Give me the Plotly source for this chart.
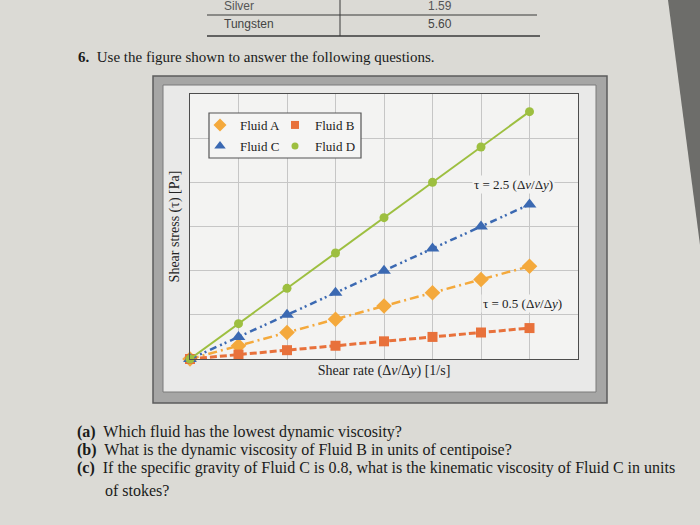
import plotly.graph_objects as go

# shear rate (1/s) and shear stress (Pa)
shear_rate = [0, 1, 2, 3, 4, 5, 6, 7]
fluid_a = [0, 1.5, 3.0, 4.5, 6.0, 7.5, 9.0, 10.5]
fluid_b = [0, 0.5, 1.0, 1.5, 2.0, 2.5, 3.0, 3.5]
fluid_c = [0, 2.5, 5.0, 7.5, 10.0, 12.5, 15.0, 17.5]
fluid_d = [0, 4.0, 8.0, 12.0, 16.0, 20.0, 24.0, 28.0]

names = ["Fluid A", "Fluid B", "Fluid C", "Fluid D"]
colors = ["#f4a93c", "#e8713b", "#3b69b2", "#9dbf40"]
symbols = ["diamond", "square", "triangle-up", "circle"]
sizes = [12, 10, 12, 9]
dashes = ["9px,4px,2px,4px", "7px,3px", "7px,4px,2px,3px,2px,4px", "solid"]
widths = [2.5, 3, 2.5, 2]

# plot area in pixels of the 700x525 page
PL, PR, PT, PB = 190, 578, 94, 359
W, H = 700, 525


def px(x):
    return (x - PL) / (PR - PL)


def py(y):
    return (PB - y) / (PB - PT)


def rect(x0, y0, x1, y1, fill, line="rgba(0,0,0,0)", lw=1, layer="below"):
    return dict(type="rect", xref="paper", yref="paper",
                x0=px(x0), x1=px(x1), y0=py(y1), y1=py(y0),
                fillcolor=fill, line=dict(color=line, width=lw), layer=layer)


def hline(x0, x1, y, color="#3a3a3a", lw=1.2):
    return dict(type="line", xref="paper", yref="paper",
                x0=px(x0), x1=px(x1), y0=py(y), y1=py(y),
                line=dict(color=color, width=lw), layer="below")


fig = go.Figure()

series = [fluid_a, fluid_b, fluid_c, fluid_d]
for i in range(4):
    fig.add_trace(go.Scatter(
        x=shear_rate, y=series[i], mode="lines+markers", showlegend=False,
        line=dict(color=colors[i], width=widths[i], dash=dashes[i]),
        marker=dict(symbol=symbols[i], size=sizes[i], color=colors[i]),
        cliponaxis=False))

# legend entries: markers only, two rows of two
for i in range(4):
    fig.add_trace(go.Scatter(
        x=[None], y=[None], mode="markers", name=names[i],
        marker=dict(symbol=symbols[i], size=sizes[i] - 2, color=colors[i]),
        legendwidth=30 if i % 2 == 0 else None,
        legend="legend" if i < 2 else "legend2"))

serif = "Liberation Serif"
legend_style = dict(orientation="h", xanchor="left", yanchor="middle",
                    bgcolor="rgba(0,0,0,0)", borderwidth=0,
                    font=dict(family=serif, size=13, color="#222"))

shapes = [
    # dark edge of the page on the right
    dict(type="path", xref="paper", yref="paper",
         path="M %f,%f L %f,%f L %f,%f Z" % (px(668), py(0), px(700), py(0), px(700), py(245)),
         fillcolor="#6d6d6a", line=dict(width=0), layer="below"),
    # table remnants at the top
    hline(207, 537, 15, lw=1.2),
    hline(207, 540, 36, lw=1.6),
    dict(type="line", xref="paper", yref="paper", x0=px(340), x1=px(340),
         y0=py(36), y1=py(0), line=dict(color="#3a3a3a", width=1), layer="below"),
    # figure frame
    rect(153, 76, 607, 403, "#a6a6a5", "#5c5c5c", 1.5),
    rect(163, 85, 596, 392, "#e9e9e8", "#7a7a7a", 1),
    rect(PL, PT, PR, PB, "#f3f3f2"),
    # legend box
    rect(209, 113, 361, 158, "#f5f5f4", "#555555", 1.2, layer="above"),
]

annotations = [
    dict(x=6.68, y=19.7, text="τ = 2.5 (Δ<i>v</i>/Δ<i>y</i>)"),
    dict(x=6.85, y=6.3, text="τ = 0.5 (Δ<i>v</i>/Δ<i>y</i>)"),
]
for a in annotations:
    a.update(xref="x", yref="y", showarrow=False, bgcolor="#f3f3f2",
             font=dict(family=serif, size=13, color="#222"))

page_text = [
    (222, 6, "Silver", "left", "Liberation Sans", 12, "#555"),
    (440, 6, "1.59", "center", "Liberation Sans", 12, "#555"),
    (222, 24, "Tungsten", "left", "Liberation Sans", 12, "#444"),
    (440, 24, "5.60", "center", "Liberation Sans", 12, "#444"),
    (76, 57, "<b>6.</b>  Use the figure shown to answer the following questions.", "left", serif, 15, "#1a1a1a"),
    (75, 432, "<b>(a)</b>  Which fluid has the lowest dynamic viscosity?", "left", serif, 16, "#1a1a1a"),
    (75, 450, "<b>(b)</b>  What is the dynamic viscosity of Fluid B in units of centipoise?", "left", serif, 16, "#1a1a1a"),
    (75, 468, "<b>(c)</b>  If the specific gravity of Fluid C is 0.8, what is the kinematic viscosity of Fluid C in units",
     "left", serif, 16, "#1a1a1a"),
    (103, 491, "of stokes?", "left", serif, 16, "#1a1a1a"),
]
for x, y, t, anchor, fam, size, col in page_text:
    annotations.append(dict(
        xref="paper", yref="paper", x=px(x), y=py(y), text=t, showarrow=False,
        xanchor=anchor, yanchor="middle", font=dict(family=fam, size=size, color=col)))

axis_common = dict(showticklabels=False, ticks="", showgrid=True, gridcolor="#c6c6c6",
                   gridwidth=1, zeroline=False, showline=True, mirror=True,
                   linecolor="#4d4d4d", linewidth=1.3)

fig.update_layout(
    width=W, height=H,
    margin=dict(l=PL, r=W - PR, t=PT, b=H - PB),
    paper_bgcolor="#dbdad5",
    plot_bgcolor="rgba(0,0,0,0)",
    font=dict(family=serif, color="#222"),
    xaxis=dict(range=[0, 8], dtick=1,
               title=dict(text="Shear rate (Δ<i>v</i>/Δ<i>y</i>) [1/s]", standoff=6,
                          font=dict(family=serif, size=14, color="#222")),
               **axis_common),
    yaxis=dict(range=[0, 30], dtick=5,
               title=dict(text="Shear stress (τ) [Pa]", standoff=5,
                          font=dict(family=serif, size=14, color="#222")),
               **axis_common),
    legend=dict(x=px(200), y=py(125), **legend_style),
    legend2=dict(x=px(200), y=py(146), **legend_style),
    shapes=shapes,
    annotations=annotations,
)

# drop the browser's default body margin so the page sits at 0,0
fig.write_html("out.html", config={"displayModeBar": False},
               post_script="document.body.style.margin = '0';")
